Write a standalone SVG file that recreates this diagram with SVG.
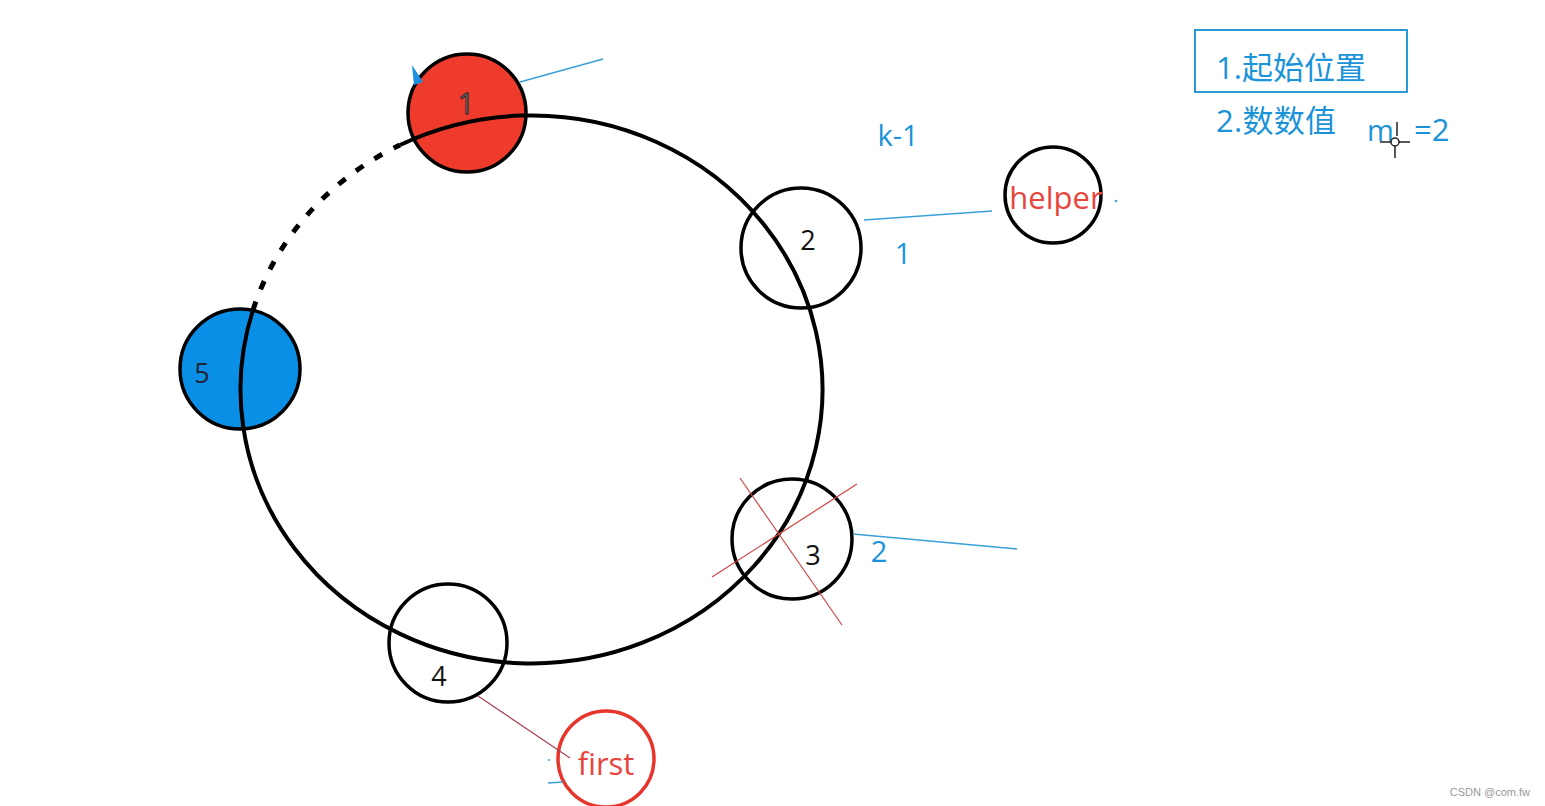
<svg xmlns="http://www.w3.org/2000/svg" width="1545" height="806" viewBox="0 0 1545 806">
<style>
.node{fill:#fff;stroke:#000;stroke-width:3.5}
.num{font-family:"Open Sans","Liberation Sans",sans-serif;font-size:27px;fill:#111;text-anchor:middle}
.blue{font-family:"Open Sans","Liberation Sans",sans-serif;font-size:29px;fill:#1a93d9}
.red{font-family:"Open Sans","Liberation Sans",sans-serif;font-size:31px;fill:#e8453c;text-anchor:middle}
.cjk{font-family:"Open Sans","Noto Sans CJK SC",sans-serif;font-size:31px;fill:#1a93d9}
.bl{stroke:#3aa0d8;stroke-width:1.5;fill:none}
.rl{stroke:#d04545;stroke-width:1.2;fill:none}
</style>
<rect width="1545" height="806" fill="#fff"/>
<g id="node1">
<circle cx="467" cy="113" r="59" fill="#ef3b2c" stroke="#000" stroke-width="3.5"/>
<text x="466" y="114" class="num" style="fill:#666;stroke:#222;stroke-width:0.8;font-size:29px">1</text>
</g>
<g id="node2">
<circle cx="801" cy="248" r="60" class="node"/>
<text x="808" y="250" class="num">2</text>
</g>
<g id="node3">
<circle cx="792" cy="539" r="60" class="node"/>
<text x="813" y="565" class="num">3</text>
</g>
<g id="node4">
<circle cx="448" cy="643" r="59" class="node"/>
<text x="439" y="686" class="num">4</text>
</g>
<g id="node5">
<circle cx="240" cy="369" r="60" fill="#0a8fe6" stroke="#000" stroke-width="3.5"/>
<text x="202" y="383" class="num" style="fill:#223">5</text>
</g>
<g id="helper">
<circle cx="1053" cy="195" r="48" class="node"/>
<text x="1056" y="209" class="red">helper</text>
</g>
<g id="first">
<circle cx="606" cy="759" r="48" fill="#fff" stroke="#e8352b" stroke-width="3.5"/>
<text x="606" y="775" class="red">first</text>
</g>
<g id="connectors">
<path d="M400,145 A291,274 0 1 1 253,310" fill="none" stroke="#000" stroke-width="4"/>
<path d="M253,310 A291,274 0 0 1 400,145" fill="none" stroke="#000" stroke-width="5" stroke-dasharray="9 13"/>
<line x1="520" y1="82" x2="603" y2="59" class="bl"/>
<line x1="864" y1="220" x2="992" y2="211" class="bl"/>
<line x1="853" y1="534" x2="1017" y2="549" class="bl"/>
<line x1="740" y1="478" x2="842" y2="625" class="rl"/>
<line x1="712" y1="577" x2="857" y2="484" class="rl"/>
<line x1="478" y1="696" x2="570" y2="758" class="rl" style="stroke:#a84050"/>
<line x1="548" y1="783" x2="563" y2="782" class="bl"/>
<circle cx="549" cy="760" r="1" fill="#3aa0d8"/>
<circle cx="1116" cy="201" r="1.3" fill="#3aa0d8"/>
<polygon points="412,65 423,82 414,85" fill="#1a8fe0"/>
</g>
<g id="notes">
<rect x="1195" y="30" width="212" height="62" fill="none" stroke="#2a9ad6" stroke-width="2"/>
<text x="1216" y="79" class="cjk" textLength="150">1.起始位置</text>
<text x="1216" y="132" class="cjk" textLength="120">2.数数值</text>
<text x="898" y="146" class="blue" text-anchor="middle">k-1</text>
<text x="903" y="264" class="blue" text-anchor="middle">1</text>
<text x="879" y="562" class="blue" text-anchor="middle">2</text>
<text x="1367" y="141" class="blue">m</text>
<text x="1414" y="141" class="blue" style="font-size:31px">=2</text>
<line x1="1397" y1="122" x2="1397" y2="136" stroke="#222" stroke-width="1.5"/>
<line x1="1380" y1="142" x2="1410" y2="142" stroke="#222" stroke-width="1.5"/>
<line x1="1395" y1="142" x2="1395" y2="158" stroke="#222" stroke-width="1.5"/>
<circle cx="1395" cy="142" r="4" fill="#fff" stroke="#222" stroke-width="1.5"/>
<text x="1530" y="796" font-family="Liberation Sans,sans-serif" font-size="11" fill="#999" text-anchor="end">CSDN @com.fw</text>
</g>
</svg>
